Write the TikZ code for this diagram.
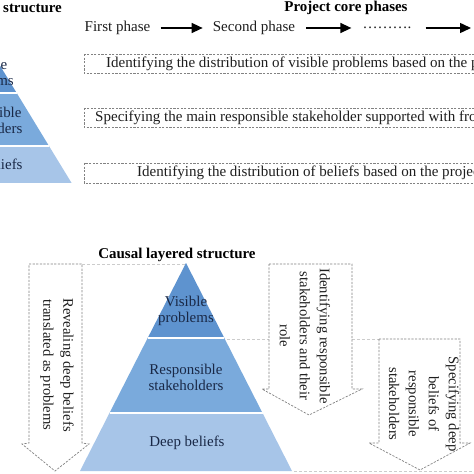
\documentclass[tikz,border=0pt]{standalone}
\usepackage{fontspec}
\setmainfont{Liberation Serif}
\usetikzlibrary{arrows.meta}
\definecolor{bandA}{RGB}{94,147,207}
\definecolor{bandB}{RGB}{122,170,220}
\definecolor{bandC}{RGB}{167,197,232}
\definecolor{txtdark}{RGB}{30,30,30}
\definecolor{pyrtxt}{RGB}{25,40,70}
\definecolor{dashgray}{RGB}{130,130,130}
\tikzset{
  body/.style={font=\fontsize{15.1}{16}\selectfont, text=txtdark, inner sep=0pt},
  title/.style={font=\fontsize{15}{18}\selectfont\bfseries, text=black, inner sep=0pt},
  pyr/.style={font=\fontsize{15}{16}\selectfont, text=pyrtxt, align=center, inner sep=0pt},
  rottext/.style={font=\fontsize{14.7}{20}\selectfont, text=txtdark, align=center, inner sep=0pt, rotate=-90},
  phasearrow/.style={-{Triangle[length=11bp,width=10bp]}, line width=1.4bp, black},
  dbox/.style={draw=dashgray, dash pattern=on 2.2bp off 1.4bp, line width=0.7bp},
  blockarrow/.style={draw=dashgray, dash pattern=on 2.2bp off 1.4bp, line width=0.7bp, fill=white},
  guide/.style={draw=black!20, dash pattern=on 3bp off 2bp, line width=0.6bp},
  sep/.style={draw=white, line width=2.2bp}
}
\begin{document}
\begin{tikzpicture}[x=1bp,y=-1bp]
\useasboundingbox (0,0) rectangle (474,474);
\clip (0,0) rectangle (474,474);
\fill[white] (0,0) rectangle (474,474);

% ---------------- top section ----------------
\node[title, anchor=west] (tA) at (3,8) {structure};
\node[title] (tB) at (346,8) {Project core phases};

\node[body] (p1) at (117.5,28) {First phase};
\node[body] (p2) at (254,28) {Second phase};
\node[body] (p3) at (387,28) {……….};
\coordinate (p4) at (471,28);
\draw[phasearrow, shorten <=10bp, shorten >=10bp] (p1) -- (p2);
\draw[phasearrow, shorten <=11bp, shorten >=11bp] (p2) -- (p3);
\draw[phasearrow, shorten <=14bp] (p3) -- (p4);

% top pyramid (apex (-15,41), slope 0.61)
\fill[bandC] (-15-86.6,183) -- (-15+86.6,183) -- (-15+64,146) -- (-15-64,146) -- cycle;
\fill[bandB] (-15-64,146) -- (-15+64,146) -- (-15+31.7,93) -- (-15-31.7,93) -- cycle;
\fill[bandA] (-15-31.7,93) -- (-15+31.7,93) -- (-15,41) -- cycle;
\draw[sep] (-15-64,146) -- (-15+64,146);
\draw[sep] (-15-31.7,93) -- (-15+31.7,93);
\node[pyr] (q1) at (-14,74) {Visible\\problems};
\node[pyr] (q2) at (-15,120) {Responsible\\stakeholders};
\node[pyr] (q3) at (-15,166) {Deep beliefs};

% dashed boxes
\draw[dbox] (84,54) rectangle (640,73);
\draw[dbox] (84,108) rectangle (640,127);
\draw[dbox] (84,163) rectangle (640,183);
\node[body, anchor=west] (b1) at (106,64) {Identifying the distribution of visible problems based on the project phases};
\node[body, anchor=west] (b2) at (95,118) {Specifying the main responsible stakeholder supported with from the project phases};
\node[body, anchor=west] (b3) at (137,173) {Identifying the distribution of beliefs based on the project phases};

% ---------------- bottom section ----------------
\node[title] (cT) at (177,255) {Causal layered structure};

% guides
\draw[guide] (82,264) -- (186,264);
\draw[guide] (227,339) -- (269,339);
\draw[guide] (352,339) -- (379,339);
\draw[guide] (294,471) -- (474,471);

% bottom pyramid apex (186,263), slope 0.51
\fill[bandC] (80,471) -- (292,471) -- (262.5,413) -- (109.5,413) -- cycle;
\fill[bandB] (109.5,413) -- (262.5,413) -- (224.3,338) -- (147.7,338) -- cycle;
\fill[bandA] (147.7,338) -- (224.3,338) -- (186,263) -- cycle;
\draw[sep] (109.5,413) -- (262.5,413);
\draw[sep] (147.7,338) -- (224.3,338);
\node[pyr] (v) at (186,311) {Visible\\problems};
\node[pyr] (r) at (186,377) {Responsible\\stakeholders};
\node[pyr] (d) at (187,443) {Deep beliefs};

% block arrows
\draw[blockarrow] (29,264) -- (82,264) -- (82,443) -- (89,444) -- (55,471) -- (22,444) -- (29,443) -- cycle;
\node[rottext] (a1) at (57,365) {Revealing deep beliefs\\translated as problems};

\draw[blockarrow] (269,264) -- (352,264) -- (352,389) -- (362,389) -- (309,415) -- (262,389) -- (269,389) -- cycle;
\node[rottext] (a2) at (305,336) {Identifying responsible\\stakeholders and their\\role};

\draw[blockarrow] (379,339) -- (460,339) -- (460,443) -- (470,443) -- (420,470) -- (369,443) -- (379,443) -- cycle;
\node[rottext] (a3) at (424,404) {Specifying deep\\beliefs of\\responsible\\stakeholders};
\end{tikzpicture}
\end{document}
